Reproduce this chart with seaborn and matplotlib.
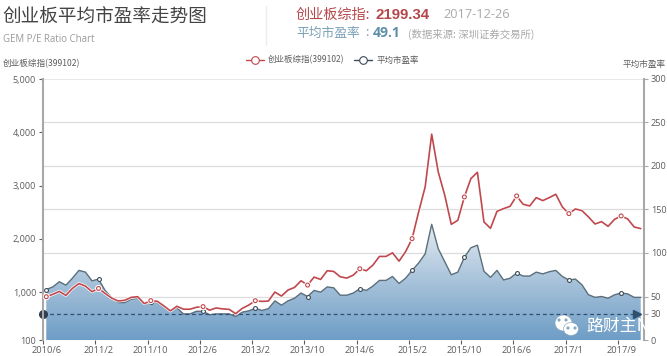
import numpy as np
import pandas as pd
import matplotlib
matplotlib.use("Agg")
import matplotlib.pyplot as plt
from matplotlib.patches import Ellipse, Circle
from matplotlib.colors import LinearSegmentedColormap
import matplotlib.patheffects as pe
import seaborn as sns

sns.set_theme(style="white")
CJK = ['Noto Sans CJK SC', 'DejaVu Sans']
plt.rcParams['font.family'] = CJK

gem_index = [913, 957, 1012, 938, 1068, 1160, 1112, 1006, 1068, 975, 888, 833, 845, 900, 913, 783,
             839, 826, 740, 647, 733, 678, 678, 715, 727, 660, 702, 684, 675, 594, 694, 756,
             838, 825, 831, 1000, 925, 1037, 1087, 1212, 1131, 1281, 1237, 1400, 1387, 1287, 1262, 1318,
             1437, 1400, 1506, 1669, 1669, 1737, 1581, 1756, 2003, 2504, 2974, 3964, 3256, 2817, 2272, 2347,
             2786, 3130, 3249, 2316, 2197, 2516, 2566, 2610, 2805, 2648, 2617, 2773, 2717, 2773, 2836, 2598,
             2473, 2560, 2529, 2410, 2278, 2322, 2234, 2366, 2429, 2372, 2222, 2191]
avg_pe = [58, 61, 67, 63, 71, 80, 78, 68, 70, 57, 49, 43, 43, 47, 48, 41,
          44, 43, 38, 33, 37, 30, 30, 33, 33, 29, 30, 30, 30, 27, 32, 33.5,
          36.5, 34, 36, 45, 40, 45, 48, 54, 50, 57, 55, 61, 60, 51.5, 51.5, 54,
          59, 57, 62, 68.5, 68.5, 73, 65, 71, 80, 88.5, 99, 133, 105, 90, 75, 78,
          95, 106, 109, 79, 72, 80, 69, 71, 77, 73.5, 73.5, 78, 76, 78.5, 80, 73,
          69, 70, 63.5, 52, 49, 50, 48, 52, 54, 53, 49, 49]
date_labels = ['2010/6', '2011/2', '2011/10', '2012/6', '2013/2', '2013/10', '2014/6',
               '2015/2', '2015/10', '2016/6', '2017/1', '2017/9']
left_ticks = [100, 1000, 2000, 3000, 4000, 5000]
left_tick_labels = ['100', '1,000', '2,000', '3,000', '4,000', '5,000']
right_ticks = [0, 30, 50, 100, 150, 200, 250, 300]
pe_mark = 30

W, H = 667, 356
fig = plt.figure(figsize=(W / 100, H / 100), dpi=100, facecolor='white')
ax_r = fig.add_axes([43 / W, 1 - 340 / H, 601 / W, 261 / H])
ax_l = ax_r.twinx()
ax_r.yaxis.tick_right()
ax_r.yaxis.set_label_position('right')
ax_l.yaxis.tick_left()
ax_l.yaxis.set_label_position('left')
ax_l.set_zorder(3)
ax_l.patch.set_visible(False)

df = pd.DataFrame({'i': np.arange(len(gem_index)), 'gem': gem_index, 'pe': avg_pe})

RED = '#c0484d'
PEC = '#5c6f7c'
GREY = '#a8a8a8'
TXT = '#5d5d5d'

# area with a vertical gradient
xs = df['i'].to_numpy()
ax_r.set_xlim(-0.5, 91.5)
ax_r.set_ylim(0, 300)
poly = ax_r.fill_between(xs, df['pe'], 0, color='none', zorder=2)
cmap = LinearSegmentedColormap.from_list('a', ['#699ac5', '#a4c0d9', '#e3ebf2'])
img = ax_r.imshow(np.linspace(1, 0, 256).reshape(-1, 1), cmap=cmap, aspect='auto',
                  extent=[-0.5, 91.5, 0, max(avg_pe)], zorder=2, alpha=0.97, vmin=0, vmax=1)
img.set_clip_path(poly.get_paths()[0], transform=ax_r.transData)
ax_r.set_xlim(-0.5, 91.5)
ax_r.set_ylim(0, 300)

sns.lineplot(data=df, x='i', y='pe', ax=ax_r, color=PEC, lw=1.0, marker='o', markevery=8, ms=2.8,
             mfc='white', mec='#3c4c58', mew=0.8, zorder=4, legend=False)

sns.lineplot(data=df, x='i', y='gem', ax=ax_l, color=RED, lw=1.2, marker='o', markevery=8, ms=2.8,
             mfc='white', mec=RED, mew=0.8, zorder=5, legend=False,
             path_effects=[pe.Stroke(linewidth=2.2, foreground='white'), pe.Normal()])
ax_l.set_xlim(-0.5, 91.5)
ax_l.set_ylim(100, 5000)

# grid on pe axis
ax_r.set_yticks(right_ticks)
ax_r.grid(False)
for v in right_ticks:
    if v not in (0, 30, 300):
        ax_r.axhline(v, color='#dcdcdc', lw=0.9, zorder=1)
ax_r.axhline(300, color='#e4e4e4', lw=1.2, zorder=1)

# mark line at 30
ax_r.plot([-0.5, 91.2], [pe_mark, pe_mark], ls=(0, (3, 2.4)), color='#2f4f6f', lw=0.9, zorder=6)
ax_r.plot([-0.5], [pe_mark], 'o', color='#2f3f4f', ms=5.5, zorder=7, clip_on=False)
ax_r.plot([90.5], [pe_mark], marker='>', color='#2f4f6f', ms=6, zorder=7, clip_on=False)

# axes styling
ax_l.set_yticks(left_ticks)
ax_l.set_yticklabels(left_tick_labels)
ax_l.set_xlabel('')
ax_l.set_ylabel('')
ax_r.set_xlabel('')
ax_r.set_ylabel('')
ax_l.grid(False)

ticks = np.arange(0, 92, 8)
ax_r.set_xticks(ticks - 0.5)
ax_r.set_xticklabels([])
ax_r.set_xticks(ticks, minor=True)
ax_r.set_xticklabels(date_labels, minor=True, family='Open Sans')
ax_r.tick_params(axis='x', which='major', length=3, width=0.8, color=TXT, bottom=True)
ax_r.tick_params(axis='x', which='minor', length=0, pad=4.2, labelsize=6.7, labelcolor=TXT, bottom=True)
ax_r.tick_params(axis='y', length=3, width=0.8, color=GREY, pad=2, labelsize=6.6, labelcolor=TXT,
                 right=True, left=False, labelright=True, labelleft=False)
ax_l.tick_params(axis='y', length=3, width=0.8, color=TXT, pad=2, labelsize=6.6, labelcolor=TXT,
                 left=True, right=False, labelleft=True, labelright=False)
ax_l.tick_params(axis='x', which='both', bottom=False, top=False, labelbottom=False)
for lab in ax_r.get_yticklabels() + ax_l.get_yticklabels():
    lab.set_family('Open Sans')

for a in (ax_r, ax_l):
    a.spines['top'].set_visible(False)
    a.spines['left'].set_visible(a is ax_l)
    a.spines['right'].set_visible(a is ax_l)
    a.spines['bottom'].set_visible(False)
ax_l.spines['left'].set_color(GREY)
ax_l.spines['left'].set_linewidth(1.5)
ax_l.spines['right'].set_color(GREY)
ax_l.spines['right'].set_linewidth(1.5)


def px(x, y):
    return x / W, 1 - y / H


# header texts
fig.text(*px(3, 17), '创业板平均市盈率走势图', fontsize=13.4, color='#444444', va='center', ha='left')
fig.text(*px(3, 39), 'GEM P/E Ratio Chart', fontsize=6.9, color='#9a9a9a', va='center', ha='left', family='Open Sans')
fig.add_artist(plt.Line2D([266 / W, 266 / W], [1 - 6 / H, 1 - 45 / H], color='#eeeeee', lw=1))
fig.text(*px(296, 15), '创业板综指:', fontsize=10.2, color='#b5474b', va='center', ha='left', weight='medium')
fig.text(*px(376, 15), '2199.34', fontsize=10.8, color='#b5474b', va='center', ha='left', weight='bold', family='Liberation Sans')
fig.text(*px(443, 15), '2017-12-26', fontsize=9.2, color='#a9a9a9', va='center', ha='left', family='Open Sans')
fig.text(*px(296, 33), '平均市盈率', fontsize=9.2, color='#7ba0b6', va='center', ha='left')
fig.text(*px(365, 33), ':', fontsize=9.2, color='#7ba0b6', va='center', ha='left')
fig.text(*px(373, 33), '49.1', fontsize=10, color='#5f8ea8', va='center', ha='left', weight='bold', family='Open Sans')
fig.text(*px(408, 34), '(数据来源: 深圳证券交易所)', fontsize=7.5, color='#a9a9a9', va='center', ha='left')

# axis names
fig.text(*px(3, 64), '创业板综指(399102)', fontsize=6.2, color=TXT, va='center', ha='left')
fig.text(*px(666, 64), '平均市盈率', fontsize=6.2, color=TXT, va='center', ha='right')

# legend
fig.add_artist(plt.Line2D([246 / W, 264 / W], [1 - 60 / H] * 2, color=RED, lw=1))
fig.add_artist(plt.Line2D([255 / W], [1 - 60 / H], color=RED, marker='o', ms=5.5, mfc='white', mec=RED, mew=0.8))
fig.text(*px(268, 60), '创业板综指(399102)', fontsize=6.1, color=TXT, va='center', ha='left')
fig.add_artist(plt.Line2D([354 / W, 372 / W], [1 - 60 / H] * 2, color='#3c4c58', lw=1))
fig.add_artist(plt.Line2D([363 / W], [1 - 60 / H], color='#3c4c58', marker='o', ms=5.5, mfc='white', mec='#3c4c58', mew=0.8))
fig.text(*px(377, 60), '平均市盈率', fontsize=6.1, color=TXT, va='center', ha='left')

# watermark
fa = fig.add_axes([0, 0, 1, 1], facecolor='none', zorder=10)
fa.set_axis_off()
fa.set_xlim(0, W)
fa.set_ylim(H, 0)
fa.add_patch(Ellipse((563.5, 323), 17, 16, color='white', ec='#7f9fb8', lw=0.4))
fa.add_patch(Ellipse((571, 329), 15, 13, color='white', ec='#7f9fb8', lw=0.4))
for cx, cy in [(559, 320), (566, 320), (568, 328), (575, 328)]:
    fa.add_patch(Circle((cx, cy), 0.9, color='#8aa9c4'))
txt = fa.text(586, 326, '路财主N', fontsize=12.2, color='white', va='center', ha='left')
txt.set_clip_path(plt.Rectangle((0, 0), 644, H, transform=fa.transData))

fig.savefig('out.png', dpi=100, facecolor='white')
